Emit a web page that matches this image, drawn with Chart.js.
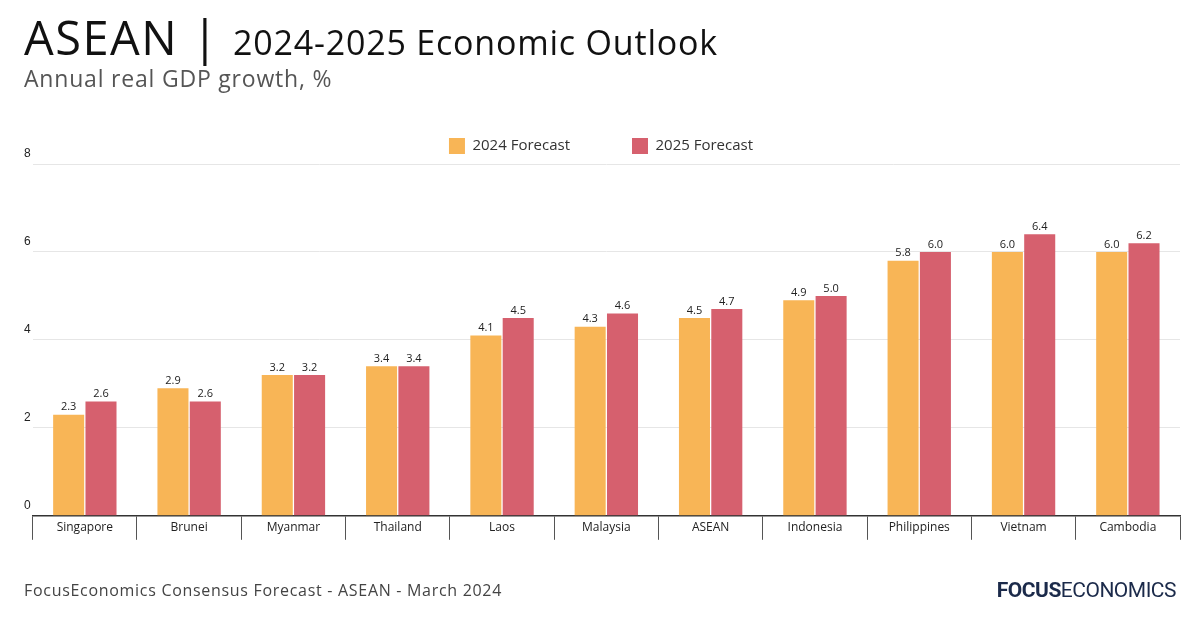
<!DOCTYPE html>
<html>
<head>
<meta charset="utf-8">
<script src="https://cdn.jsdelivr.net/npm/chart.js@4"></script>
<style>
  body { margin:0; width:1200px; height:627px; background:#fff; font-family:"Open Sans", sans-serif; position:relative; overflow:hidden; }
  #wrap { position:absolute; left:0; top:0; width:1200px; height:627px; }
  .t { position:absolute; left:24px; top:5px; color:#111; white-space:nowrap; }
  .t .big { font-size:47px; letter-spacing:1.5px; }
  .t .small { font-size:34px; letter-spacing:0.8px; }
  .sub { position:absolute; left:24px; top:62px; font-size:23px; color:#555; letter-spacing:0.8px; }
  .foot { position:absolute; left:24px; top:579px; font-size:16px; color:#444; letter-spacing:0.7px; }
  .logo { position:absolute; right:24px; top:578px; font-size:21px; color:#1b2a4a; font-family:"Roboto", sans-serif; letter-spacing:-0.5px; }
</style>
</head>
<body>
<div id="wrap"><canvas id="c"></canvas></div>
<div class="t"><span class="big">ASEAN | </span><span class="small">2024-2025 Economic Outlook</span></div>
<div class="sub">Annual real GDP growth, %</div>
<div class="foot">FocusEconomics Consensus Forecast - ASEAN - March 2024</div>
<div class="logo"><b>FOCUS</b>ECONOMICS</div>
<script>
var countries = ["Singapore", "Brunei", "Myanmar", "Thailand", "Laos", "Malaysia", "ASEAN", "Indonesia", "Philippines", "Vietnam", "Cambodia"];
var forecast2024 = [2.3, 2.9, 3.2, 3.4, 4.1, 4.3, 4.5, 4.9, 5.8, 6.0, 6.0];
var forecast2025 = [2.6, 2.6, 3.2, 3.4, 4.5, 4.6, 4.7, 5.0, 6.0, 6.4, 6.2];
var yTicks = [0, 2, 4, 6, 8];

// value labels above bars, category names inside the tick band
var barLabels = {
  id: "barLabels",
  afterDatasetsDraw: function(chart) {
    var ctx = chart.ctx;
    ctx.save();
    ctx.font = "11px 'Open Sans', sans-serif";
    ctx.fillStyle = "#222";
    ctx.textAlign = "center";
    ctx.textBaseline = "bottom";
    chart.data.datasets.forEach(function(ds, i) {
      chart.getDatasetMeta(i).data.forEach(function(bar, j) {
        ctx.fillText(ds.data[j].toFixed(1), bar.x, bar.y - 2);
      });
    });
    var xs = chart.scales.x;
    ctx.font = "12px 'Open Sans', sans-serif";
    ctx.textBaseline = "middle";
    countries.forEach(function(name, j) {
      ctx.fillText(name, xs.getPixelForTick(j), xs.top + 12);
    });
    ctx.restore();
  }
};

new Chart(document.getElementById("c"), {
  type: "bar",
  data: {
    labels: countries,
    datasets: [
      { label: "2024 Forecast", data: forecast2024, backgroundColor: "#F8B556", barPercentage: 0.96, categoryPercentage: 0.62 },
      { label: "2025 Forecast", data: forecast2025, backgroundColor: "#D6606E", barPercentage: 0.96, categoryPercentage: 0.62 }
    ]
  },
  options: {
    responsive: true,
    maintainAspectRatio: false,
    animation: false,
    layout: { padding: { top: 76, left: 22, right: 20, bottom: 86 } },
    plugins: {
      legend: {
        labels: { boxWidth: 16, boxHeight: 16, padding: 62, color: "#333", font: { size: 15, family: "'Open Sans', sans-serif" } }
      },
      tooltip: { enabled: false }
    },
    scales: {
      x: {
        grid: { offset: true, drawOnChartArea: false, tickLength: 24, color: "#555" },
        border: { color: "#333", width: 1.5 },
        ticks: { color: "rgba(0,0,0,0)", font: { size: 1 }, padding: 0, autoSkip: false, maxRotation: 0 }
      },
      y: {
        min: 0, max: 8,
        afterBuildTicks: function(axis) { axis.ticks = yTicks.map(function(v) { return { value: v }; }); },
        grid: { color: "#e6e6e6", drawTicks: false },
        border: { display: false },
        ticks: { color: "#222", font: { size: 12 }, labelOffset: -10, padding: 2 }
      }
    }
  },
  plugins: [barLabels]
});
</script>
</body>
</html>
